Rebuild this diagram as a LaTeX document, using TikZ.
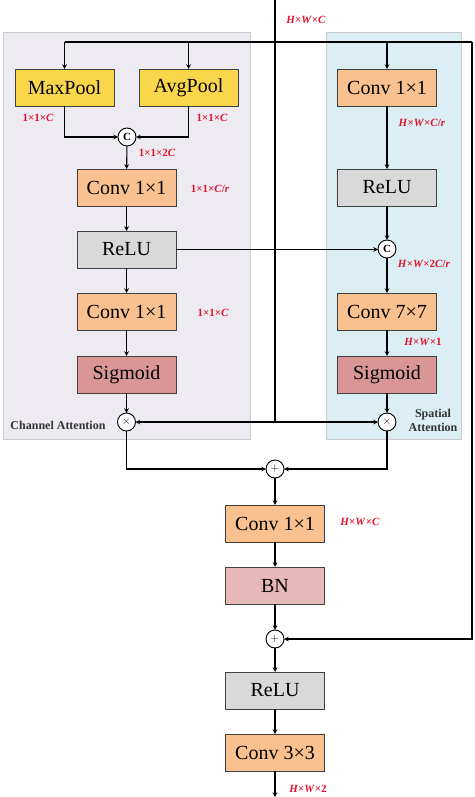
\documentclass[tikz,border=0pt]{standalone}
\usepackage{fontspec}
\setmainfont{Liberation Serif}
\usepackage{tikz}
\usetikzlibrary{positioning}
\usetikzlibrary{arrows}
\definecolor{poolyellow}{HTML}{FAD64B}
\definecolor{convorange}{HTML}{F9C18F}
\definecolor{relugray}{HTML}{D9D9D9}
\definecolor{sigred}{HTML}{D99694}
\definecolor{bnpink}{HTML}{E6B9B8}
\definecolor{chanbg}{HTML}{EEEAF2}
\definecolor{spatbg}{HTML}{DBEEF4}
\definecolor{dimred}{HTML}{E3132D}
\tikzset{
  block/.style={rectangle,draw=black!75,line width=0.9pt,
                minimum width=99pt,minimum height=37pt,outer sep=0pt,
                inner sep=0pt,font=\fontsize{20}{24}\selectfont},
  poolbox/.style={block,fill=poolyellow},
  convbox/.style={block,fill=convorange},
  relubox/.style={block,fill=relugray},
  sigbox/.style={block,fill=sigred},
  bnbox/.style={block,fill=bnpink},
  joint/.style={circle,draw=black,fill=white,line width=0.9pt,outer sep=0pt,
                minimum size=18pt,inner sep=0pt,font=\fontsize{11}{12}\selectfont},
  flow/.style={>=stealth,line width=1.1pt,->},
  wire/.style={line width=1.1pt},
  dimlabel/.style={text=dimred,font=\fontsize{11}{12}\selectfont\bfseries},
  region/.style={draw=black!20,line width=0.8pt},
  regionlabel/.style={text=black!80,align=center,
                      font=\fontsize{12}{14}\selectfont\bfseries},
}

\begin{document}
\begin{tikzpicture}[x=1pt,y=-1pt,node distance=25pt]
  \useasboundingbox (0,0) rectangle (474,797);

  % attention regions
  \draw[region,fill=chanbg] (3,32) rectangle (250,439);
  \draw[region,fill=spatbg] (326,32) rectangle (461,439);

  % channel attention
  \node[poolbox] (maxpool) at (64.5,87.5)  {MaxPool};
  \node[poolbox] (avgpool) at (188.5,87.5) {AvgPool};
  \node[joint]   (catL)    at (127,137)    {\bfseries C};
  \node[convbox] (convA)   at (126.5,187.5) {Conv 1×1};
  \node[relubox] (reluA) [below=of convA]      {ReLU};
  \node[convbox] (convB) [below=of reluA]      {Conv 1×1};
  \node[sigbox]  (sigA)  [below=26pt of convB] {Sigmoid};
  \node[joint]   (mulA)  [below=20pt of sigA]  {$\times$};

  % spatial attention
  \node[convbox] (convC) at (387,87.5)         {Conv 1×1};
  \node[relubox] (reluB) [below=63pt of convC] {ReLU};
  \node[joint]   (catR)  [below=34pt of reluB] {\bfseries C};
  \node[convbox] (convD) [below=35pt of catR]  {Conv 7×7};
  \node[sigbox]  (sigB)  [below=26pt of convD] {Sigmoid};
  \node[joint]   (mulB)  [below=20pt of sigB]  {$\times$};

  % fusion
  \node[joint]   (addA)  at (275,469)          {$+$};
  \node[convbox] (convE) [below=27pt of addA]  {Conv 1×1};
  \node[bnbox]   (bn)    [below=of convE]      {BN};
  \node[joint]   (addB)  [below=26pt of bn]    {$+$};
  \node[relubox] (reluC) [below=24pt of addB]  {ReLU};
  \node[convbox] (convF) [below=of reluC]      {Conv 3×3};

  \coordinate (in)    at (275,0);
  \coordinate (split) at (in |- mulA);
  \coordinate (topL)  at (64.5,42);
  \coordinate (topR)  at (472,42);
  \coordinate (out)   at (275,797);

  % labels
  \node[dimlabel] (dIn)   at (306,20)  {\textit{H}×\textit{W}×\textit{C}};
  \node[dimlabel] (dMax)  at (38,118)  {1×1×\textit{C}};
  \node[dimlabel] (dAvg)  at (212,118) {1×1×\textit{C}};
  \node[dimlabel] (dCat)  at (157,153) {1×1×2\textit{C}};
  \node[dimlabel] (dRed)  at (210,189) {1×1×\textit{C}/\textit{r}};
  \node[dimlabel] (dExp)  at (213,313) {1×1×\textit{C}};
  \node[dimlabel] (dSRed) at (422,123) {\textit{H}×\textit{W}×\textit{C}/\textit{r}};
  \node[dimlabel] (dSCat) at (424,264) {\textit{H}×\textit{W}×2\textit{C}/\textit{r}};
  \node[dimlabel] (dSOne) at (423,342) {\textit{H}×\textit{W}×1};
  \node[dimlabel] (dFuse) at (360,522) {\textit{H}×\textit{W}×\textit{C}};
  \node[dimlabel] (dOut)  at (308,789) {\textit{H}×\textit{W}×2};
  \node[regionlabel] (chanName) at (58,425)  {Channel Attention};
  \node[regionlabel,text depth=0pt] (spatName) at (433,420) {Spatial\\Attention};

  % input and branches
  \draw[wire] (in) -- (split);
  \draw[wire] (topL) -- (topR);
  \draw[flow] (topL) -- (maxpool);
  \draw[flow] (avgpool |- topL) -- (avgpool);
  \draw[flow] (convC |- topL) -- (convC);
  \draw[flow] (split) -- (mulA);
  \draw[flow] (split) -- (mulB);

  \draw[flow] (maxpool.south) |- (catL);
  \draw[flow] (avgpool.south) |- (catL);
  \draw[flow] (catL) -- (convA);
  \draw[flow] (convA) -- (reluA);
  \draw[flow] (reluA) -- (convB);
  \draw[flow] (convB) -- (sigA);
  \draw[flow] (sigA) -- (mulA);

  \draw[flow] (convC) -- (reluB);
  \draw[flow] (reluB) -- (catR);
  \draw[flow] (reluA.east) -- (reluA.east -| catR.west);
  \draw[flow] (catR) -- (convD);
  \draw[flow] (convD) -- (sigB);
  \draw[flow] (sigB) -- (mulB);

  \draw[flow] (mulA) |- (addA);
  \draw[flow] (mulB) |- (addA);
  \draw[flow] (addA) -- (convE);
  \draw[flow] (convE) -- (bn);
  \draw[flow] (bn) -- (addB);
  \draw[flow] (topR) |- (addB);
  \draw[flow] (addB) -- (reluC);
  \draw[flow] (reluC) -- (convF);
  \draw[flow] (convF) -- (out);
\end{tikzpicture}
\end{document}
